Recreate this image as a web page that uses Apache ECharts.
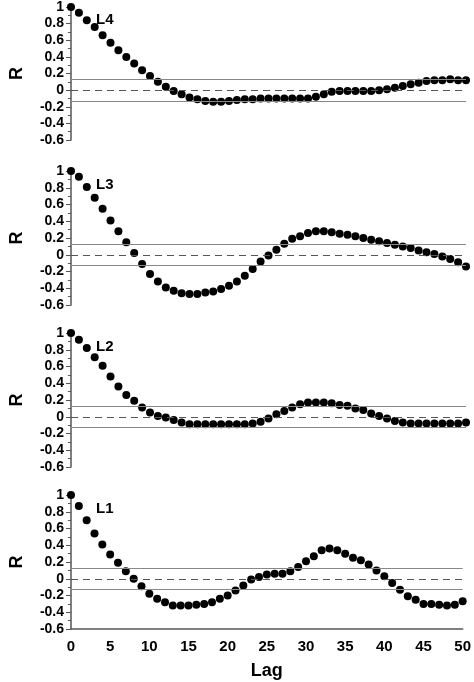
<!DOCTYPE html>
<html><head><meta charset="utf-8">
<script src="https://cdn.jsdelivr.net/npm/echarts@6/dist/echarts.min.js"></script>
<style>html,body{margin:0;padding:0;background:#fff}#c{width:474px;height:682px}</style>
</head><body><div id="c"></div>
<script>
const lags = Array.from({length:51},(_,i)=>i);
const panelNames = ['L4','L3','L2','L1'];
const L4 = [1,.93,.84,.76,.66,.57,.48,.40,.32,.24,.17,.10,.04,-.01,-.05,-.09,-.11,-.13,-.14,-.14,-.13,-.12,-.11,-.11,-.10,-.10,-.10,-.10,-.10,-.10,-.10,-.08,-.05,-.02,-.01,-.01,-.01,-.01,-.01,0,.01,.03,.05,.07,.09,.11,.12,.12,.13,.12,.12];
const L3 = [1,.93,.81,.68,.55,.41,.28,.15,.02,-.11,-.23,-.32,-.39,-.43,-.46,-.47,-.47,-.45,-.44,-.41,-.37,-.32,-.25,-.17,-.08,-.01,.06,.13,.19,.22,.26,.28,.28,.27,.25,.24,.22,.20,.18,.16,.14,.12,.10,.08,.05,.03,.01,-.02,-.05,-.09,-.14];
const L2 = [1,.92,.82,.71,.61,.48,.36,.26,.19,.11,.05,.01,-.01,-.04,-.07,-.09,-.09,-.09,-.09,-.09,-.09,-.09,-.09,-.08,-.06,-.02,.03,.07,.11,.15,.17,.17,.17,.16,.14,.13,.10,.08,.04,.01,-.02,-.05,-.07,-.08,-.08,-.08,-.08,-.08,-.08,-.08,-.07];
const L1 = [1,.87,.70,.54,.41,.29,.19,.09,0,-.09,-.18,-.24,-.28,-.32,-.32,-.32,-.31,-.30,-.28,-.24,-.20,-.14,-.08,-.01,.02,.05,.06,.06,.09,.14,.21,.27,.34,.36,.34,.30,.25,.22,.17,.10,.03,-.05,-.13,-.21,-.25,-.30,-.30,-.31,-.32,-.31,-.27];
const seriesData = [L4,L3,L2,L1];
const yTicks = [-0.6,-0.4,-0.2,0,0.2,0.4,0.6,0.8,1];
const threshold = 0.13;

const tops=[6,171,333,495], H=134;
const font='"Liberation Sans", Arial, sans-serif';
const grid=[],xAxis=[],yAxis=[],series=[],graphic=[];
seriesData.forEach((d,i)=>{
  grid.push({left:61,right:8,top:tops[i],height:H});
  const last = i===3;
  xAxis.push({type:'value',gridIndex:i,min:0,max:50,interval:5,
    axisLine:{show:last,onZero:false,lineStyle:{color:'#555',width:1.5}},
    axisTick:{show:false},splitLine:{show:false},
    axisLabel:{show:last,fontWeight:'bold',fontSize:15,color:'#000',fontFamily:font,margin:10},
    name:last?'Lag':'',nameLocation:'middle',nameGap:33,
    nameTextStyle:{fontWeight:'bold',fontSize:18,color:'#000',fontFamily:font}});
  yAxis.push({type:'value',gridIndex:i,min:yTicks[0],max:yTicks[yTicks.length-1],interval:0.2,
    axisLine:{show:true,onZero:false,lineStyle:{color:'#555',width:1.5}},
    axisTick:{show:true,length:5,lineStyle:{color:'#555'}},
    minorTick:{show:true,splitNumber:2,length:3,lineStyle:{color:'#555'}},
    splitLine:{show:false},
    axisLabel:{fontWeight:'bold',fontSize:14,color:'#000',fontFamily:font,margin:7,
      formatter:v=>String(Math.round(v*10)/10)},
    name:'R',nameLocation:'middle',nameGap:45,nameRotate:90,
    nameTextStyle:{fontWeight:'bold',fontSize:18,color:'#000',fontFamily:font}});
  series.push({type:'scatter',xAxisIndex:i,yAxisIndex:i,symbolSize:8,
    itemStyle:{color:'#000',opacity:1},data:lags.map((x,k)=>[x,d[k]]),
    markLine:{silent:true,symbol:'none',label:{show:false},
      data:[
        {yAxis:0,lineStyle:{type:[7,5],color:'#555',width:1}},
        {yAxis:threshold,lineStyle:{type:'solid',color:'#888',width:1.2}},
        {yAxis:-threshold,lineStyle:{type:'solid',color:'#888',width:1.2}}]}});
  graphic.push({type:'text',left:96,top:tops[i]+6,style:{text:panelNames[i],font:'bold 15px '+font,fill:'#000'}});
});
const chart=echarts.init(document.getElementById('c'));
chart.setOption({animation:false,grid,xAxis,yAxis,series,graphic});
</script></body></html>
